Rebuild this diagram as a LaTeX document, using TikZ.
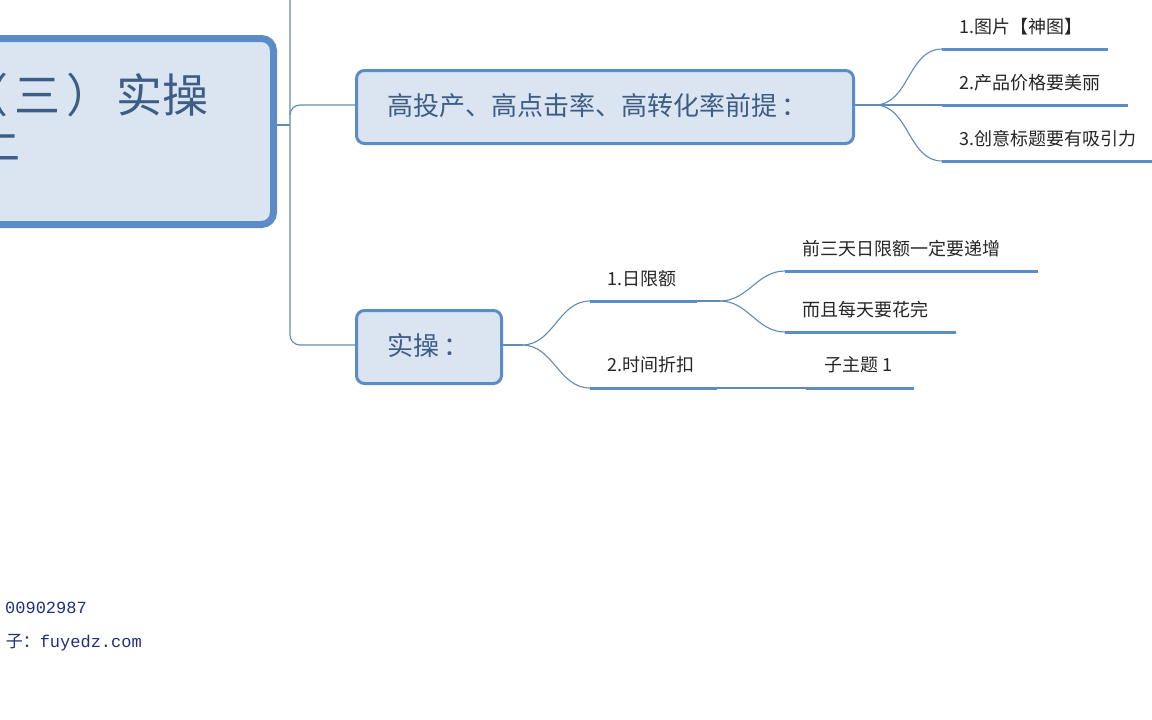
\documentclass[tikz,border=0pt]{standalone}
\usepackage{fontspec}
\setmainfont{Noto Sans CJK SC}
\newfontfamily\wmfont{Liberation Mono}
\begin{document}
\begin{tikzpicture}[x=1pt,y=-1pt,
  conn/.style={draw=lineblue,line width=1.1pt},
  uline/.style={draw=boxblue,line width=3pt},
  leaf/.style={anchor=base west,font=\fontsize{18}{18}\selectfont,text=black!85},
  topic/.style={draw=boxblue,fill=boxfill,line width=3pt,rounded corners=8pt,anchor=north west,inner sep=0pt},
  ttext/.style={text=titleblue,font=\fontsize{26}{26}\selectfont,anchor=west}]
\definecolor{boxblue}{HTML}{5B8CC8}
\definecolor{boxfill}{HTML}{DAE5F1}
\definecolor{lineblue}{HTML}{5F8CB5}
\definecolor{titleblue}{HTML}{3E5D86}
\definecolor{wmblue}{HTML}{1F2F7A}
\useasboundingbox (0,0) rectangle (1152,720);
\clip (0,0) rectangle (1152,720);
\fill[white] (0,0) rectangle (1152,720);
% central box
\node[draw=boxblue,fill=boxfill,line width=7pt,rounded corners=12pt,minimum width=320pt,minimum height=186pt,anchor=north west,inner sep=0pt] (root) at (-50,35) {};
\node[text=titleblue,font=\fontsize{46}{46}\selectfont,anchor=east] (roott) at (212,95) {（\hspace{6pt}三\hspace{6pt}）\hspace{4pt}实操};
\node[text=titleblue,font=\fontsize{46}{46}\selectfont,anchor=east] (roott2) at (24,140) {上};
% branches
\node[topic,minimum width=497pt,minimum height=73pt] (b1) at (355,69) {};
\node[ttext] (b1t) at (384,106) {高投产、高点击率、高转化率前提\hspace{4pt}：};
\node[topic,minimum width=145pt,minimum height=73pt] (b2) at (355,309) {};
\node[ttext] (b2t) at (384,346) {实操\hspace{4pt}：};
\coordinate (j) at (290,125);
\coordinate (jt) at (290,0);
\draw[conn] (root.east |- j) -- (j);
\draw[conn] (jt) -- (290,335) to[out=-90,in=180] (300,345) -- (b2.west |- 0,345);
\draw[conn] (290,115) to[out=90,in=180] (300,105) -- (b1.west |- 0,105);
% leaves of b1
\coordinate (k1) at (875,105);
\draw[conn] (b1.east |- k1) -- (k1);
\foreach \y/\xe/\t [count=\i] in {49/1108/1.图片【神图】,105/1128/2.产品价格要美丽,161/1160/3.创意标题要有吸引力}{
  \coordinate (l\i) at (942,\y);
  \draw[conn] (k1) to[out=0,in=180] (l\i);
  \draw[uline] (l\i) -- (\xe,\y);
  \node[leaf] (lt\i) at (956,\y-16) {\t};
}
% b2 subtree
\coordinate (k2) at (522,345);
\draw[conn] (b2.east |- k2) -- (k2);
\coordinate (m1) at (590,301);
\coordinate (m2) at (590,388);
\draw[conn] (k2) to[out=0,in=180] (m1);
\draw[conn] (k2) to[out=0,in=180] (m2);
\draw[uline] (m1) -- (697,301) coordinate (m1e);
\node[leaf] (m1t) at (604,285) {1.日限额};
\draw[uline] (m2) -- (717,388) coordinate (m2e);
\node[leaf] (m2t) at (604,371) {2.时间折扣};
\coordinate (k3) at (720,301);
\draw[conn] (m1e) -- (k3);
\coordinate (n1) at (785,271);
\coordinate (n2) at (785,332);
\draw[conn] (k3) to[out=0,in=180] (n1);
\draw[conn] (k3) to[out=0,in=180] (n2);
\draw[uline] (n1) -- (1038,271);
\node[leaf] (n1t) at (799,255) {前三天日限额一定要递增};
\draw[uline] (n2) -- (956,332);
\node[leaf] (n2t) at (799,316) {而且每天要花完};
\coordinate (p1) at (806,388);
\draw[conn] (m2e) -- (p1);
\draw[uline] (p1) -- (914,388);
\node[leaf] (p1t) at (821,371) {子主题 1};
% watermark
\node[anchor=base east,text=wmblue,font=\wmfont\fontsize{17}{17}\selectfont,inner sep=0pt] (w1) at (87,613) {00902987};
\node[anchor=base east,text=wmblue,font=\fontsize{17}{17}\selectfont,inner sep=0pt] (w2) at (142,647) {子：{\wmfont fuyedz.com}};
\end{tikzpicture}
\end{document}
